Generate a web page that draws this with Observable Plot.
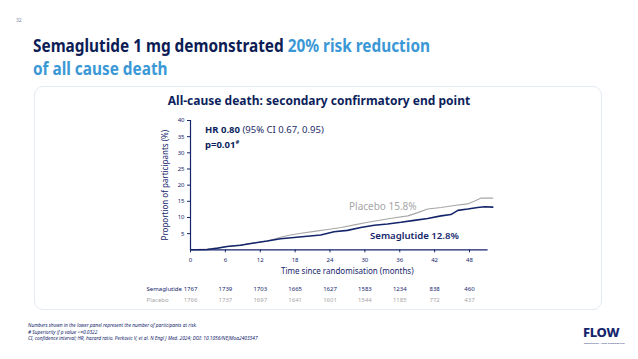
<!DOCTYPE html>
<html>
<head>
<meta charset="utf-8">
<script src="https://cdn.jsdelivr.net/npm/d3@7"></script>
<script src="https://cdn.jsdelivr.net/npm/@observablehq/plot@0.6"></script>
<style>
  html, body { margin: 0; padding: 0; background: #fff; }
  #page { position: relative; width: 638px; height: 359px; overflow: hidden; font-family: "Noto Sans", sans-serif; color: #0d1f5c; }
  .abs { position: absolute; white-space: nowrap; }
  #panel { position: absolute; left: 34px; top: 86px; width: 568px; height: 224px; border: 1.5px solid #e3eaf3; border-radius: 9px; box-sizing: border-box; }
  #chart { position: absolute; left: 0; top: 110px; }
</style>
</head>
<body>
<div id="page">
  <div class="abs" style="left:16px;top:17px;font-size:5px;color:#7a86a8;">32</div>
  <div class="abs" style="left:33px;top:33px;font-size:18.5px;font-weight:700;line-height:23px;color:#0c1c55;transform:scaleX(0.83);transform-origin:0 0;">Semaglutide 1 mg demonstrated <span style="color:#3b98d6">20% risk reduction</span><br><span style="color:#3b98d6">of all cause death</span></div>
  <div id="panel"></div>
  <div class="abs" style="left:0;width:638px;text-align:center;top:92px;font-size:12px;font-weight:700;">All-cause death: secondary confirmatory end point</div>
  <div id="chart"></div>
  <div class="abs" style="left:205px;top:124px;font-size:9.5px;line-height:12px;color:#0d1f5c;"><b>HR 0.80</b> <span style="color:#1c2b66">(95% CI 0.67, 0.95)</span><br><b>p=0.01<sup style="font-size:6px">#</sup></b></div>
  <div class="abs" style="left:349px;top:199px;font-size:10px;color:#a6a6a6;">Placebo 15.8%</div>
  <div class="abs" style="left:370px;top:229px;font-size:9.6px;font-weight:600;color:#14256b;">Semaglutide 12.8%</div>
  <div class="abs" style="left:28px;top:322px;font-size:4.8px;line-height:6.6px;font-style:italic;color:#14256b;">Numbers shown in the lower panel represent the number of participants at risk.<br># Superiority if p value &lt;=0.0322<br>CI, confidence interval; HR, hazard ratio. Perkovic V, et al. N Engl J Med. 2024; DOI: 10.1056/NEJMoa2403347</div>
  <div class="abs" style="left:583px;top:326px;font-size:13px;font-weight:800;letter-spacing:-0.3px;color:#14256b;line-height:13px;">FLOW</div>
  <div class="abs" style="left:584px;top:341.5px;font-size:2.5px;line-height:3px;color:#14256b;">semaglutide | renal outcomes trial</div>
</div>
<script>
// Kaplan–Meier style cumulative incidence (%)
const placeboMonths = [0, 2.9, 4.6, 6.3, 8.6, 10.9, 13.2, 15.5, 17.2, 19.0, 21.3, 23.6, 25.9, 28.2, 30.5, 32.8, 35.1, 37.4, 39.1, 40.8, 43.1, 45.4, 47.7, 48.9, 50.0, 52.0];
const placeboPct    = [0, 0.2, 0.6, 1.0, 1.5, 2.1, 2.7, 3.9, 4.6, 5.1, 5.7, 6.3, 6.9, 7.7, 8.5, 9.2, 9.9, 10.5, 11.5, 12.6, 13.1, 13.7, 14.2, 15.1, 16.0, 16.0];
const semaMonths    = [0, 2.9, 4.6, 6.3, 8.6, 10.9, 13.2, 15.5, 17.8, 20.1, 22.4, 24.7, 27.0, 29.3, 31.6, 33.9, 36.2, 38.5, 40.8, 43.1, 44.8, 46.0, 47.7, 49.4, 50.6, 52.0];
const semaPct       = [0, 0.1, 0.5, 1.0, 1.4, 2.1, 2.7, 3.4, 3.8, 4.2, 4.6, 5.6, 6.0, 6.9, 7.6, 8.0, 8.5, 9.1, 9.7, 10.5, 10.9, 12.2, 12.6, 13.1, 13.3, 13.2];

const xTicks = [0, 6, 12, 18, 24, 30, 36, 42, 48];
const yTicks = [5, 10, 15, 20, 25, 30, 35, 40];
const semaAtRisk    = [1767, 1739, 1703, 1665, 1627, 1583, 1234, 838, 460];
const placeboAtRisk = [1766, 1737, 1697, 1641, 1601, 1544, 1185, 772, 437];
const rowLabels = ["Semaglutide", "Placebo"];
const xLabel = "Time since randomisation (months)";
const yLabel = "Proportion of participants (%)";

const navy = "#14256b";
const grey = "#a6a6a6";

const placebo = placeboMonths.map((m, i) => ({m, p: placeboPct[i]}));
const sema = semaMonths.map((m, i) => ({m, p: semaPct[i]}));
const risk = xTicks.map((t, i) => ({t, s: String(semaAtRisk[i]), pl: String(placeboAtRisk[i])}));

const chart = Plot.plot({
  width: 638,
  height: 195,
  marginLeft: 190,
  marginRight: 150.4,
  marginTop: 10,
  marginBottom: 55.7,
  x: {domain: [0, 51.2]},
  y: {domain: [0, 40]},
  style: {fontFamily: "Noto Sans, sans-serif", color: navy, background: "transparent", overflow: "visible"},
  marks: [
    Plot.axisY({ticks: yTicks, tickSize: 3, tickPadding: 3, fontSize: 6, label: null, stroke: navy}),
    Plot.axisX({ticks: xTicks, tickSize: 3, tickPadding: 5, fontSize: 6, label: null, stroke: navy}),
    Plot.ruleY([0], {stroke: navy, strokeWidth: 1.2}),
    Plot.ruleX([0], {stroke: navy, strokeWidth: 1.2}),
    Plot.line(placebo, {x: "m", y: "p", stroke: grey, strokeWidth: 1.1}),
    Plot.line(sema, {x: "m", y: "p", stroke: navy, strokeWidth: 1.6}),
    Plot.text([yLabel], {frameAnchor: "left", textAnchor: "middle", rotate: -90, dx: -25, fontSize: 8, fill: navy}),
    Plot.text([xLabel], {frameAnchor: "bottom", textAnchor: "middle", dy: 24, dx: 8, fontSize: 8, fill: navy}),
    Plot.text(risk, {x: "t", text: "s", frameAnchor: "bottom", dy: 40.7, fontSize: 6, fill: navy}),
    Plot.text(risk, {x: "t", text: "pl", frameAnchor: "bottom", dy: 51.7, fontSize: 6, fill: grey}),
    Plot.text([rowLabels[0]], {frameAnchor: "bottom-left", dx: -44, dy: 40.7, textAnchor: "start", fontSize: 6, fill: navy}),
    Plot.text([rowLabels[1]], {frameAnchor: "bottom-left", dx: -44, dy: 51.7, textAnchor: "start", fontSize: 6, fill: grey})
  ]
});
document.getElementById("chart").append(chart);
</script>
</body>
</html>
